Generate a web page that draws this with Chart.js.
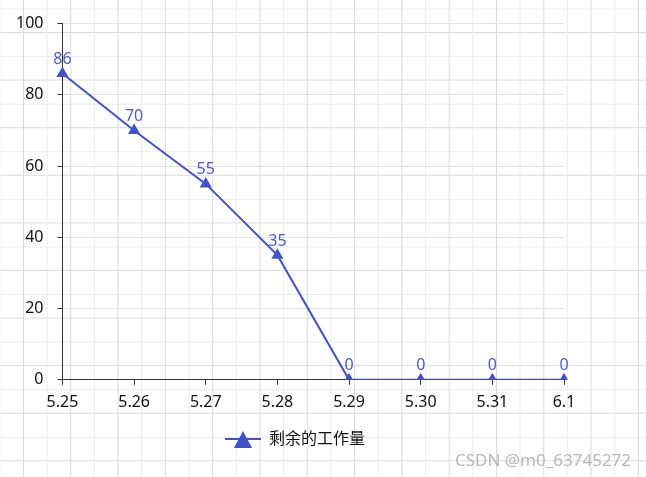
<!DOCTYPE html>
<html>
<head>
<meta charset="utf-8">
<script src="https://cdn.jsdelivr.net/npm/chart.js@4"></script>
<style>
  html, body { margin: 0; padding: 0; }
  body {
    width: 646px; height: 477px; overflow: hidden; position: relative;
    background-color: #fff;
    /* graph-paper backdrop of the screenshot */
    background-image:
      linear-gradient(to right, #dadada 1px, transparent 1px),
      linear-gradient(to right, #ececec 1px, transparent 1px),
      linear-gradient(to bottom, #dadada 1px, transparent 1px),
      linear-gradient(to bottom, #ececec 1px, transparent 1px);
    background-size: 47.3px 100%, 47.3px 100%, 100% 47.6px, 100% 47.6px;
    background-position: 23px 0, 46.6px 0, 0 32px, 0 8.5px;
  }
  #wrap { position: absolute; left: 0; top: 0; width: 590px; height: 477px; }
  #mark {
    position: absolute; left: 455px; top: 448px;
    font: 17px "Noto Sans", "Noto Sans CJK SC", sans-serif; color: #b8b8b8;
  }
</style>
</head>
<body>
<div id="wrap"><canvas id="c"></canvas></div>
<div id="mark">CSDN @m0_63745272</div>
<script>
  "use strict";

  const dates = ["5.25", "5.26", "5.27", "5.28", "5.29", "5.30", "5.31", "6.1"];
  const remaining = [86, 70, 55, 35, 0, 0, 0, 0];
  const yTicks = [0, 20, 40, 60, 80, 100];

  const BLUE = "#4052c8";
  const FONT = "'Noto Sans', 'Noto Sans CJK SC', sans-serif";

  // Legend icon: short line with a triangle on it
  function legendIcon() {
    const cv = document.createElement("canvas");
    cv.width = 36;
    cv.height = 18;
    const ctx = cv.getContext("2d");
    ctx.strokeStyle = BLUE;
    ctx.lineWidth = 2;
    ctx.beginPath();
    ctx.moveTo(0, 9);
    ctx.lineTo(36, 9);
    ctx.stroke();
    ctx.fillStyle = BLUE;
    ctx.beginPath();
    ctx.moveTo(18, 1);
    ctx.lineTo(27, 18);
    ctx.lineTo(9, 18);
    ctx.closePath();
    ctx.fill();
    return cv;
  }

  // Value labels above every point
  const valueLabels = {
    id: "valueLabels",
    afterDatasetsDraw(chart) {
      const ctx = chart.ctx;
      const meta = chart.getDatasetMeta(0);
      const data = chart.data.datasets[0].data;
      ctx.save();
      ctx.font = "16px " + FONT;
      ctx.fillStyle = "#4b5dd0";
      ctx.textAlign = "center";
      ctx.textBaseline = "bottom";
      meta.data.forEach((pt, i) => {
        ctx.fillText(String(data[i]), pt.x, pt.y - 6);
      });
      ctx.restore();
    },
  };

  // Legend sits a bit right of the canvas centre in the original
  const legendShift = {
    id: "legendShift",
    afterLayout(chart) {
      if (!chart.legend) return;
      chart.legend.left += 12;
      chart.legend.right += 12;
    },
  };

  new Chart(document.getElementById("c"), {
    type: "line",
    data: {
      labels: dates,
      datasets: [
        {
          label: "剩余的工作量",
          data: remaining,
          borderColor: BLUE,
          backgroundColor: BLUE,
          borderWidth: 2,
          tension: 0,
          pointStyle: "triangle",
          pointRadius: 5,
          pointHoverRadius: 5,
        },
      ],
    },
    options: {
      responsive: true,
      maintainAspectRatio: false,
      animation: false,
      layout: { padding: { left: 2, right: 26, top: 18, bottom: 20 } },
      plugins: {
        tooltip: { enabled: false },
        legend: {
          position: "bottom",
          labels: {
            usePointStyle: true,
            pointStyle: legendIcon(),
            pointStyleWidth: 36,
            color: "#111",
            font: { family: FONT, size: 16 },
            padding: 11,
          },
        },
      },
      scales: {
        x: {
          offset: false,
          grid: { drawOnChartArea: false, drawTicks: true, tickLength: 5, tickColor: "#333" },
          border: { color: "#333", width: 1 },
          ticks: { color: "#111", padding: 8, font: { family: FONT, size: 16 }, maxRotation: 0 },
        },
        y: {
          min: 0,
          max: 100,
          afterBuildTicks: (axis) => { axis.ticks = yTicks.map((v) => ({ value: v })); },
          grid: { color: "#e2e2e2", tickLength: 5, tickColor: "#333" },
          border: { color: "#333", width: 1 },
          ticks: { color: "#111", padding: 14, font: { family: FONT, size: 16 } },
        },
      },
    },
    plugins: [valueLabels, legendShift],
  });
</script>
</body>
</html>
